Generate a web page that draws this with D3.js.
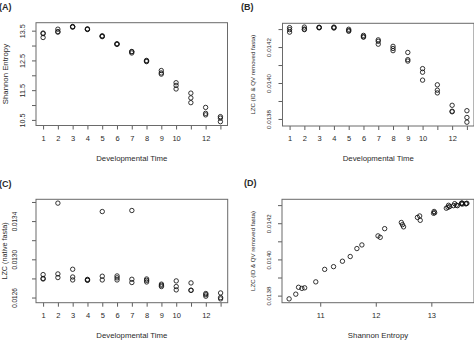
<!DOCTYPE html>
<html>
<head>
<meta charset="utf-8">
<script src="https://cdn.jsdelivr.net/npm/d3@7"></script>
<style>
  html, body { margin: 0; padding: 0; background: #fff; overflow: hidden; }
  svg text { font-family: "Liberation Sans", Arial, sans-serif; fill: #2a2a2a; }
</style>
</head>
<body>
<div id="chart"></div>
<script>
// one entry per sample: 13 developmental time points, 3 replicates each
var timePoint = [1,1,1, 2,2,2, 3,3,3, 4,4,4, 5,5,5, 6,6,6, 7,7,7, 8,8,8, 9,9,9, 10,10,10, 11,11,11, 12,12,12, 13,13,13];

var shannon = [13.42, 13.40, 13.27,  13.55, 13.47, 13.45,  13.64, 13.63, 13.62,
               13.55, 13.54, 13.56,  13.31, 13.33, 13.30,  13.05, 13.06, 13.04,
               12.79, 12.80, 12.75,  12.46, 12.48, 12.50,  12.16, 12.08, 12.04,
               11.75, 11.66, 11.54,  11.40, 11.24, 11.08,  10.92, 10.72, 10.67,
               10.61, 10.56, 10.44];

var lzcClean = [0.014308, 0.014297, 0.014283,  0.014311, 0.014297, 0.014300,  0.014310, 0.014309, 0.014307,
                0.014311, 0.014308, 0.014306,  0.014299, 0.014292, 0.014288,  0.014265, 0.014258, 0.014255,
                0.014240, 0.014216, 0.014232,  0.014204, 0.014192, 0.014180,  0.014170, 0.014122, 0.014130,
                0.014080, 0.014060, 0.014016,  0.013990, 0.013960, 0.013945,  0.013876, 0.013843, 0.013840,
                0.013846, 0.013808, 0.013782];

var lzcNative = [0.012840, 0.012800, 0.012794,  0.013588, 0.012847, 0.012809,  0.012896, 0.012815, 0.012784,
                 0.012790, 0.012784, 0.012780,  0.013500, 0.012823, 0.012784,  0.012826, 0.012806, 0.012784,
                 0.013511, 0.012791, 0.012757,  0.012794, 0.012780, 0.012763,  0.012740, 0.012728, 0.012715,
                 0.012774, 0.012715, 0.012680,  0.012753, 0.012676, 0.012676,  0.012642, 0.012630, 0.012614,
                 0.012648, 0.012600, 0.012586];

// axis ticks and the labels that are printed at them ("" = tick only)
var timeTicks  = [1, 2, 3, 4, 5, 6, 7, 8, 9, 10, 11, 12, 13];
var timeLabels = ["1", "2", "3", "4", "5", "6", "7", "8", "9", "10", "", "12", ""];
var entropyTicks  = [10.5, 11, 11.5, 12, 12.5, 13, 13.5];
var entropyLabels = ["10.5", "", "11.5", "", "12.5", "", "13.5"];
var cleanTicks  = [0.0138, 0.0139, 0.0140, 0.0141, 0.0142, 0.0143];
var cleanLabels = ["0.0138", "", "0.0140", "", "0.0142", ""];
var nativeTicks  = [0.0126, 0.0128, 0.0130, 0.0132, 0.0134, 0.0136];
var nativeLabels = ["0.0126", "", "0.0130", "", "0.0134", ""];
var entropyXTicks  = [11, 12, 13];
var entropyXLabels = ["11", "12", "13"];

var W = 474, H = 340;

var svg = d3.select("#chart").append("svg")
    .attr("width", W)
    .attr("height", H)
    .style("display", "block");

svg.append("rect").attr("width", W).attr("height", H).attr("fill", "#fff");

// plot ranges padded by 4% on each side, like base R graphics
function padded(values) {
    var e = d3.extent(values), d = (e[1] - e[0]) * 0.04;
    return [e[0] - d, e[1] + d];
}

function drawPanel(p) {
    var g = svg.append("g");

    var x = d3.scaleLinear().domain(padded(p.xs)).range([p.box.x0, p.box.x1]);
    var y = d3.scaleLinear().domain(padded(p.ys)).range([p.box.y1, p.box.y0]);

    // x axis
    var xAxis = d3.axisBottom(x)
        .tickValues(p.xTicks)
        .tickFormat(function (d, i) { return p.xLabels[i]; })
        .tickSize(4)
        .tickSizeOuter(0)
        .tickPadding(6);
    var gx = g.append("g")
        .attr("transform", "translate(0," + p.box.y1 + ")")
        .call(xAxis);
    gx.select(".domain").remove();
    gx.selectAll(".tick line").attr("stroke", "#333").attr("stroke-width", 0.8);
    gx.selectAll(".tick text")
        .style("font-size", p.xTickSize + "px")
        .attr("fill", "#2a2a2a");

    // y axis, labels rotated parallel to the axis
    var yAxis = d3.axisLeft(y)
        .tickValues(p.yTicks)
        .tickFormat(function (d, i) { return p.yLabels[i]; })
        .tickSize(4)
        .tickSizeOuter(0);
    var gy = g.append("g")
        .attr("transform", "translate(" + p.box.x0 + ",0)")
        .call(yAxis);
    gy.select(".domain").remove();
    gy.selectAll(".tick line").attr("stroke", "#333").attr("stroke-width", 0.8);
    gy.selectAll(".tick text")
        .attr("x", null)
        .attr("dy", null)
        .attr("text-anchor", "middle")
        .attr("transform", "translate(" + (-p.yTickOffset) + ",0) rotate(-90)")
        .style("font-size", p.yTickSize + "px")
        .attr("fill", "#2a2a2a");

    // plot frame
    g.append("rect")
        .attr("x", p.box.x0)
        .attr("y", p.box.y0)
        .attr("width", p.box.x1 - p.box.x0)
        .attr("height", p.box.y1 - p.box.y0)
        .attr("fill", "none")
        .attr("stroke", "#6a6a6a")
        .attr("stroke-width", 1);

    // open circles, one per sample
    g.selectAll("circle.pt")
        .data(d3.range(p.xs.length))
        .join("circle")
        .attr("class", "pt")
        .attr("cx", function (i) { return x(p.xs[i]); })
        .attr("cy", function (i) { return y(p.ys[i]); })
        .attr("r", 2.2)
        .attr("fill", "none")
        .attr("stroke", "#111")
        .attr("stroke-width", 0.85);

    // axis titles
    g.append("text")
        .attr("x", (p.box.x0 + p.box.x1) / 2)
        .attr("y", p.xTitleY)
        .attr("text-anchor", "middle")
        .attr("dominant-baseline", "central")
        .style("font-size", p.xTitleSize + "px")
        .text(p.xTitle);

    g.append("text")
        .attr("transform", "translate(" + p.yTitleX + "," + ((p.box.y0 + p.box.y1) / 2) + ") rotate(-90)")
        .attr("text-anchor", "middle")
        .attr("dominant-baseline", "central")
        .style("font-size", p.yTitleSize + "px")
        .text(p.yTitle);

    // panel letter
    g.append("text")
        .attr("x", p.tag[0])
        .attr("y", p.tag[1])
        .attr("dominant-baseline", "central")
        .style("font-size", "9px")
        .style("font-weight", "bold")
        .attr("fill", "#111")
        .text(p.letter);
}

drawPanel({
    letter: "(A)", tag: [-1, 6.5],
    xs: timePoint, ys: shannon,
    box: { x0: 36, x1: 227.5, y0: 22.7, y1: 125.5 },
    xTicks: timeTicks, xLabels: timeLabels, xTickSize: 7.5,
    yTicks: entropyTicks, yLabels: entropyLabels, yTickSize: 7.2, yTickOffset: 11,
    xTitle: "Developmental Time", xTitleY: 158.5, xTitleSize: 7.8,
    yTitle: "Shannon Entropy", yTitleX: 5, yTitleSize: 7.8
});

drawPanel({
    letter: "(B)", tag: [241, 6.5],
    xs: timePoint, ys: lzcClean,
    box: { x0: 282.5, x1: 474, y0: 23.3, y1: 126 },
    xTicks: timeTicks, xLabels: timeLabels, xTickSize: 7.5,
    yTicks: cleanTicks, yLabels: cleanLabels, yTickSize: 6.2, yTickOffset: 11.5,
    xTitle: "Developmental Time", xTitleY: 158.5, xTitleSize: 7.8,
    yTitle: "LZC (ID & QV removed fasta)", yTitleX: 252, yTitleSize: 6.1
});

drawPanel({
    letter: "(C)", tag: [-1, 184],
    xs: timePoint, ys: lzcNative,
    box: { x0: 36, x1: 227.7, y0: 199.3, y1: 302.7 },
    xTicks: timeTicks, xLabels: timeLabels, xTickSize: 7.5,
    yTicks: nativeTicks, yLabels: nativeLabels, yTickSize: 6.4, yTickOffset: 19,
    xTitle: "Developmental Time", xTitleY: 335, xTitleSize: 7.8,
    yTitle: "LZC (native fasta)", yTitleX: 4.5, yTitleSize: 7.2
});

drawPanel({
    letter: "(D)", tag: [244, 182.5],
    xs: shannon, ys: lzcClean,
    box: { x0: 282, x1: 474, y0: 199.3, y1: 302.7 },
    xTicks: entropyXTicks, xLabels: entropyXLabels, xTickSize: 7.5,
    yTicks: cleanTicks, yLabels: cleanLabels, yTickSize: 6.2, yTickOffset: 11.5,
    xTitle: "Shannon Entropy", xTitleY: 335, xTitleSize: 7.8,
    yTitle: "LZC (ID & QV removed fasta)", yTitleX: 252, yTitleSize: 6.1
});
</script>
</body>
</html>
